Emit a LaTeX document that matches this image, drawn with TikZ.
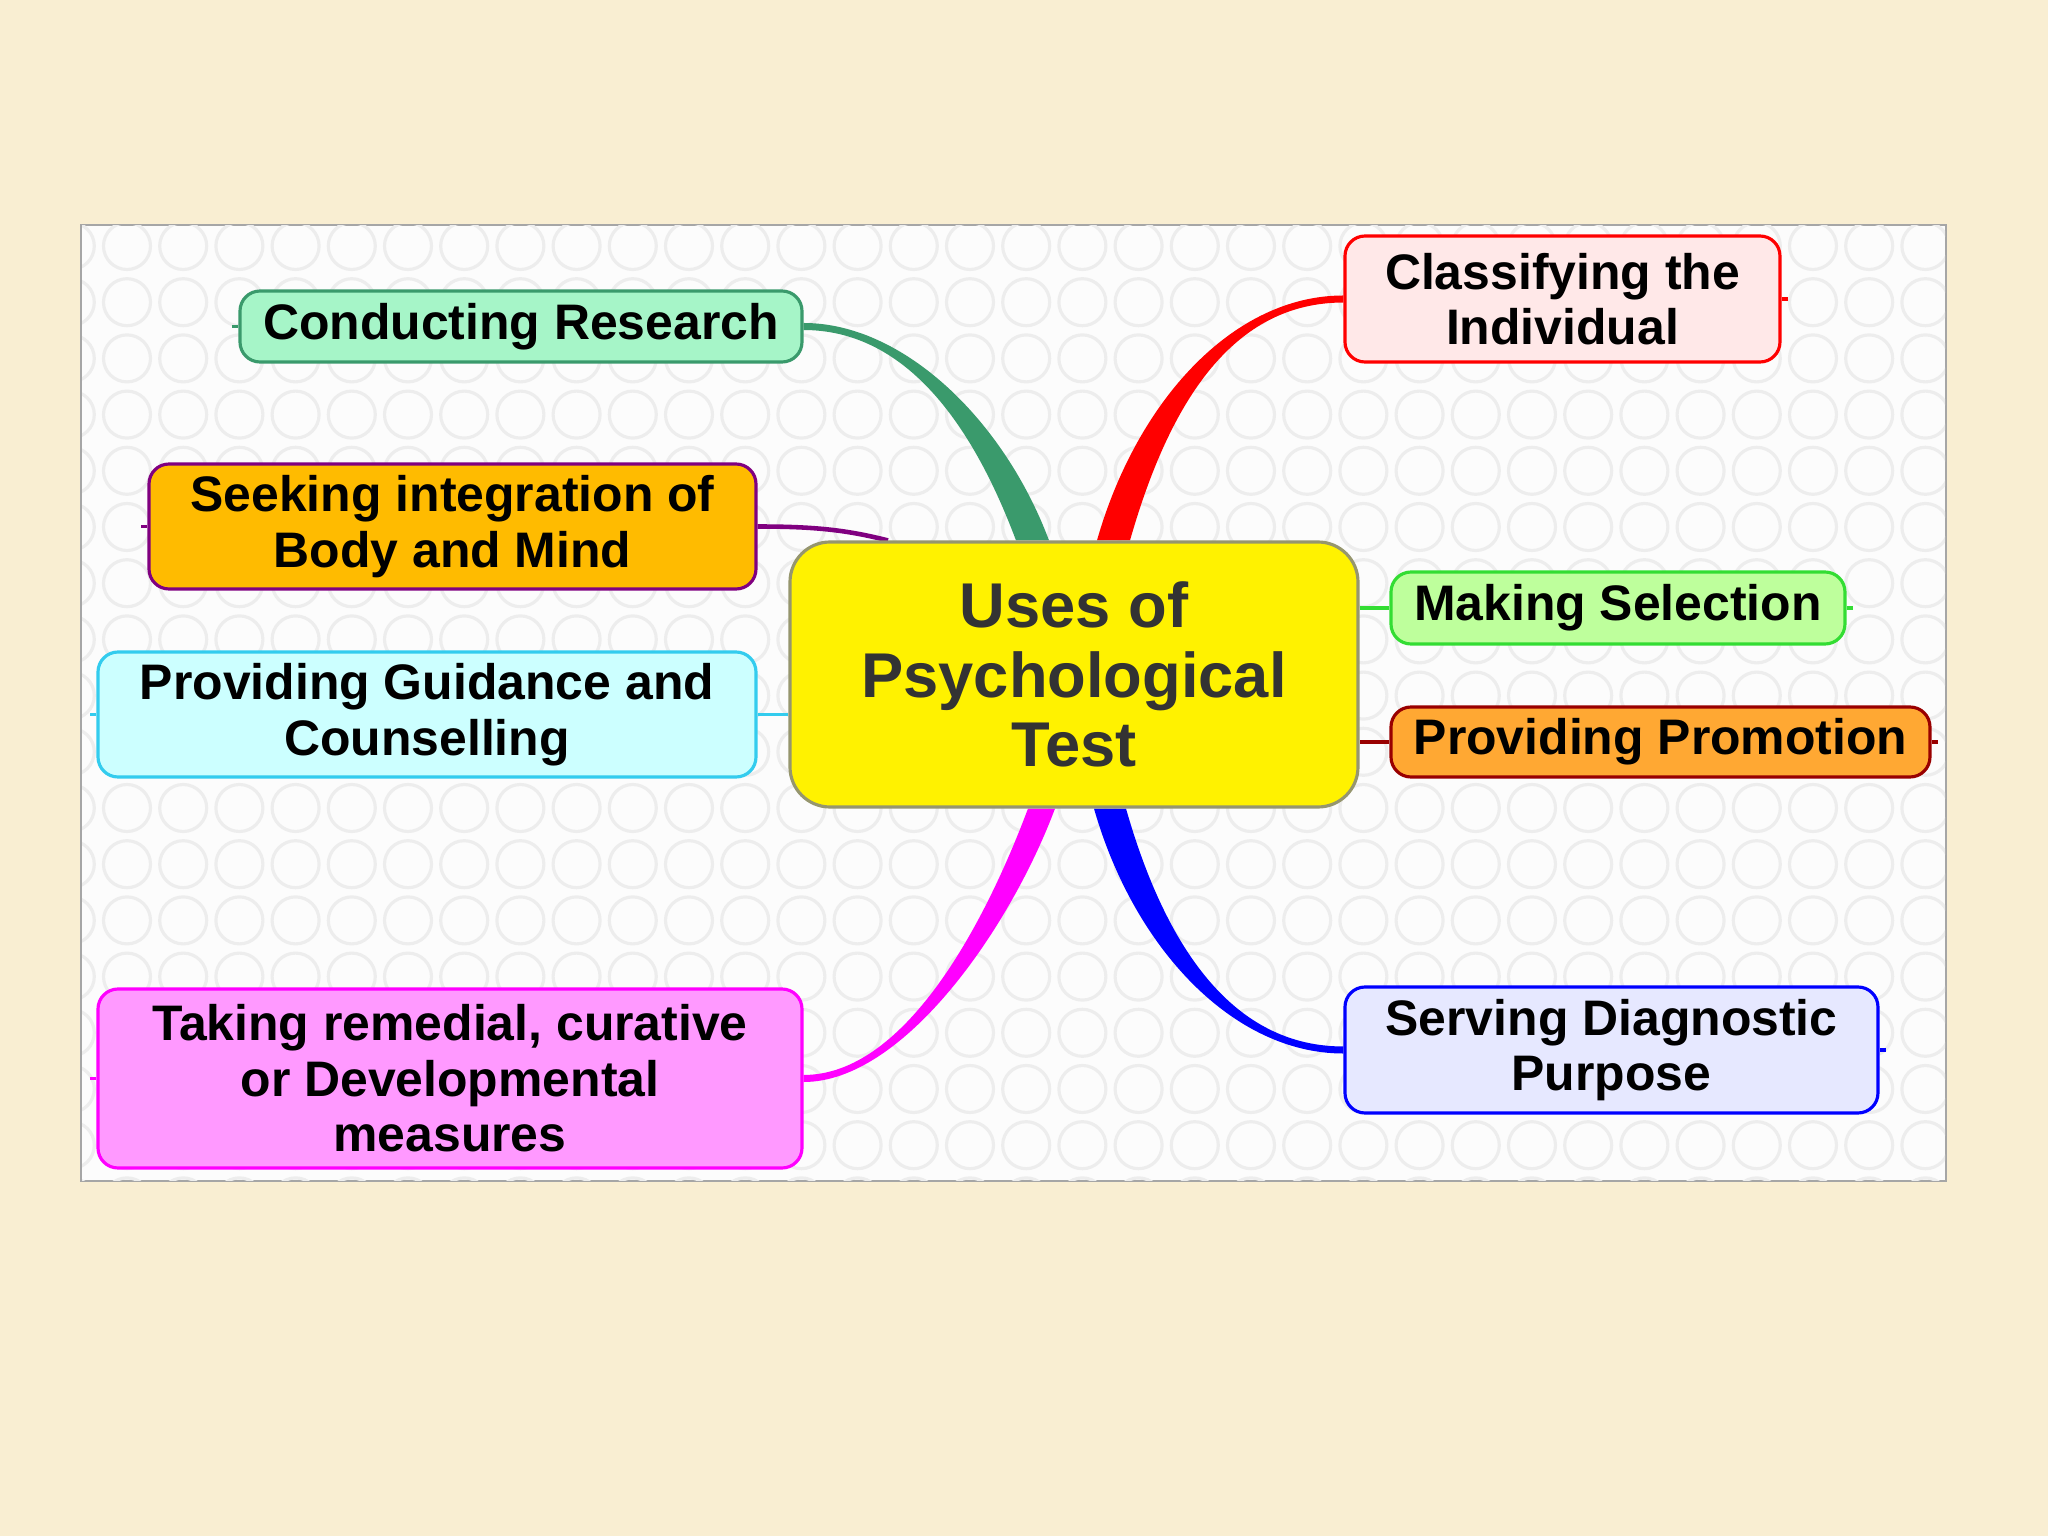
\documentclass[tikz,border=0pt]{standalone}
\usepackage{fontspec}
\setmainfont{Liberation Sans}
\usetikzlibrary{backgrounds}

\definecolor{parch}{RGB}{249,238,210}
\definecolor{panel}{RGB}{252,252,252}
\definecolor{ringgray}{RGB}{237,237,237}
\definecolor{txtgray}{RGB}{51,51,51}
\definecolor{crfill}{RGB}{166,245,200}
\definecolor{crline}{RGB}{58,154,108}
\definecolor{simfill}{RGB}{255,187,0}
\definecolor{simline}{RGB}{128,0,128}
\definecolor{pgcfill}{RGB}{204,255,255}
\definecolor{pgcline}{RGB}{51,204,238}
\definecolor{trmfill}{RGB}{255,153,255}
\definecolor{trmline}{RGB}{255,0,255}
\definecolor{ctifill}{RGB}{255,232,232}
\definecolor{ctiline}{RGB}{255,0,0}
\definecolor{msfill}{RGB}{190,255,156}
\definecolor{msline}{RGB}{51,221,51}
\definecolor{ppfill}{RGB}{255,168,51}
\definecolor{ppline}{RGB}{153,0,0}
\definecolor{sdpfill}{RGB}{230,232,255}
\definecolor{sdpline}{RGB}{0,0,255}

\begin{document}
\begin{tikzpicture}[font=\bfseries\fontsize{14.2}{15.8}\selectfont,
  branch/.style={draw, line width=0.9pt, rounded corners=2mm, align=center, inner sep=0pt},
  ring/.style={draw=ringgray, line width=0.9pt},
  tick/.style={line width=1pt}]
\useasboundingbox (0,0) rectangle (20.48,-15.36);
% central topic
\node[draw={rgb,255:red,150;green,150;blue,110}, fill=yellow, line width=0.9pt, rounded corners=4mm,
  minimum width=5.68cm, minimum height=2.65cm, align=center, text=txtgray,
  font=\bfseries\fontsize{18}{19.8}\selectfont] (uses) at (10.74,-6.745) {Uses of\\Psychological\\Test};
% left branches
\node[branch, draw=crline, fill=crfill, minimum width=5.62cm, minimum height=0.71cm] (cr) at (5.21,-3.265) {Conducting Research};
\node[branch, draw=simline, fill=simfill, minimum width=6.07cm, minimum height=1.25cm] (sim) at (4.525,-5.265) {Seeking integration of\\Body and Mind};
\node[branch, draw=pgcline, fill=pgcfill, minimum width=6.58cm, minimum height=1.25cm] (pgc) at (4.27,-7.145) {Providing Guidance and\\Counselling};
\node[branch, draw=trmline, fill=trmfill, minimum width=7.04cm, minimum height=1.79cm] (trm) at (4.50,-10.785) {Taking remedial, curative\\or Developmental\\measures};
% right branches
\node[branch, draw=ctiline, fill=ctifill, minimum width=4.35cm, minimum height=1.26cm] (cti) at (15.625,-2.99) {Classifying the\\Individual};
\node[branch, draw=msline, fill=msfill, minimum width=4.54cm, minimum height=0.72cm] (ms) at (16.18,-6.08) {Making Selection};
\node[branch, draw=ppline, fill=ppfill, minimum width=5.39cm, minimum height=0.70cm] (pp) at (16.605,-7.42) {Providing Promotion};
\node[branch, draw=sdpline, fill=sdpfill, minimum width=5.33cm, minimum height=1.26cm] (sdp) at (16.115,-10.50) {Serving Diagnostic\\Purpose};

\begin{scope}[on background layer]
% paper and panel with rings
\fill[parch] (0,0) rectangle (20.48,-15.36);
\draw[fill=panel, draw=gray!70, line width=0.8pt] (0.81,-2.25) rectangle (19.46,-11.81);
\begin{scope}
  \clip (0.82,-2.26) rectangle (19.45,-11.80);
  \foreach \i in {-1,...,32}
    \foreach \j in {0,...,17}
      \draw[ring] (1.27+0.562*\i,-2.46-0.562*\j) circle (0.235);
\end{scope}
% thick tapered links
\fill[crline] ([yshift=1pt]cr.east) .. controls +(1.0,0) and +(-0.45,1.2) .. ([xshift=-2.5mm]uses.north)
  -- ([xshift=-5.8mm]uses.north) .. controls +(-0.45,1.2) and +(1.0,0) .. ([yshift=-1pt]cr.east) -- cycle;
\fill[ctiline] ([yshift=1pt]cti.west) .. controls +(-1.1,0) and +(0.4,1.4) .. ([xshift=2.3mm]uses.north)
  -- ([xshift=5.6mm]uses.north) .. controls +(0.4,1.4) and +(-1.1,0) .. ([yshift=-1pt]cti.west) -- cycle;
\fill[trmline] ([yshift=1pt]trm.east) .. controls +(1.0,0) and +(-0.45,-1.2) .. ([xshift=-4.6mm]uses.south)
  -- ([xshift=-1.9mm]uses.south) .. controls +(-0.45,-1.2) and +(1.0,0) .. ([yshift=-1pt]trm.east) -- cycle;
\fill[sdpline] ([yshift=-1pt]sdp.west) .. controls +(-1.1,0) and +(0.4,-1.4) .. ([xshift=2.0mm]uses.south)
  -- ([xshift=5.2mm]uses.south) .. controls +(0.4,-1.4) and +(-1.1,0) .. ([yshift=1pt]sdp.west) -- cycle;
% thin links
\draw[simline, line width=1.3pt] (sim.east) .. controls +(0.6,0) and +(-0.4,0.1) .. ([xshift=-1.86cm]uses.north);
\draw[pgcline, line width=1pt] (pgc.east) -- (pgc.east -| uses.west);
\draw[msline, line width=1pt] (ms.west) -- (ms.west -| uses.east);
\draw[ppline, line width=1pt] (pp.west) -- (pp.west -| uses.east);
% stubs on the far side
\draw[tick, crline] (cr.west) -- ++(-0.06,0);
\draw[tick, simline] (sim.west) -- ++(-0.06,0);
\draw[tick, pgcline] (pgc.west) -- ++(-0.06,0);
\draw[tick, trmline] (trm.west) -- ++(-0.06,0);
\draw[tick, ctiline] (cti.east) -- ++(0.06,0);
\draw[tick, msline] (ms.east) -- ++(0.06,0);
\draw[tick, ppline] (pp.east) -- ++(0.06,0);
\draw[tick, sdpline] (sdp.east) -- ++(0.06,0);
\end{scope}
\end{tikzpicture}
\end{document}
